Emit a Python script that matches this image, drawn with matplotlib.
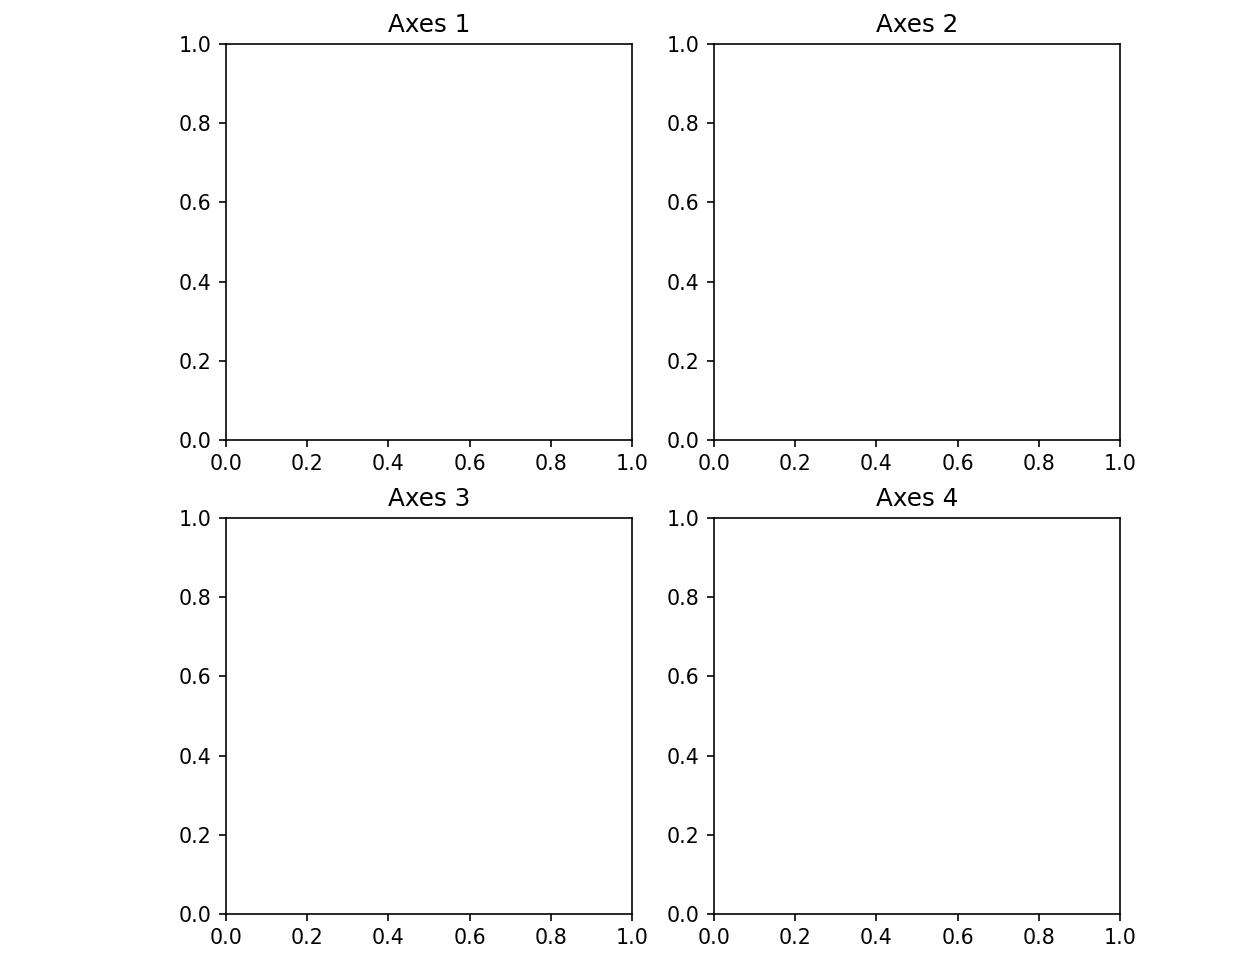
import matplotlib
matplotlib.use("Agg")
import matplotlib.pyplot as plt

# panel titles and tick values
titles = ["Axes 1", "Axes 2", "Axes 3", "Axes 4"]
ticks = [0.0, 0.2, 0.4, 0.6, 0.8, 1.0]
tick_labels = ["0.0", "0.2", "0.4", "0.6", "0.8", "1.0"]

W, H, DPI = 1256, 972, 148

# axes boxes in pixels: left, top, right, bottom
boxes = [
    (226, 44, 632, 440),
    (714, 44, 1120, 440),
    (226, 518, 632, 914),
    (714, 518, 1120, 914),
]


def main():
    fig = plt.figure(figsize=(W / DPI, H / DPI), dpi=DPI)
    for title, (x0, y0, x1, y1) in zip(titles, boxes):
        ax = fig.add_axes([x0 / W, 1 - y1 / H, (x1 - x0) / W, (y1 - y0) / H])
        ax.set_xlim(0, 1)
        ax.set_ylim(0, 1)
        ax.set_xticks(ticks)
        ax.set_xticklabels(tick_labels)
        ax.set_yticks(ticks)
        ax.set_yticklabels(tick_labels)
        ax.set_title(title)
    fig.savefig("out.png", dpi=DPI)


if __name__ == "__main__":
    main()
